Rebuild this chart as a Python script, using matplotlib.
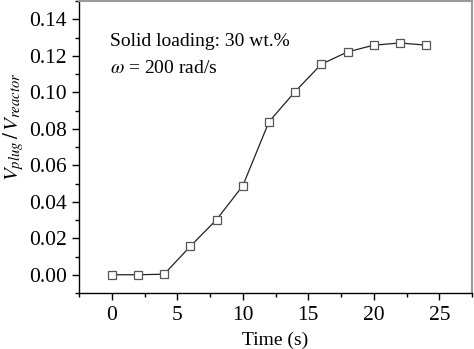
import numpy as np
import matplotlib
matplotlib.use('Agg')
from matplotlib import pyplot as plt
from matplotlib.ticker import MultipleLocator

# plug volume fraction vs time
time_s = [0, 2, 4, 6, 8, 10, 12, 14, 16, 18, 20, 22, 24]
v_ratio = [0.0, 0.0, 0.0003, 0.0156, 0.0302, 0.0487, 0.0838, 0.1004,
           0.1154, 0.1221, 0.1258, 0.1270, 0.1258]
x_ticks = [0, 5, 10, 15, 20, 25]
y_ticks = [0.00, 0.02, 0.04, 0.06, 0.08, 0.10, 0.12, 0.14]

plt.rcParams['font.family'] = ['Liberation Serif', 'DejaVu Serif']
plt.rcParams['mathtext.fontset'] = 'stix'
plt.rcParams['font.size'] = 14

fig = plt.figure(figsize=(4.74, 3.49), dpi=100)
ax = fig.add_axes([79/474, 56/349, (472-79)/474, (293-1)/349])

ax.plot(time_s, v_ratio, color='#222222', lw=0.9, marker='s', ms=6,
        mfc='white', mec='#555555', mew=0.9)

ax.set_xlim(-2.5, 27.5)
ax.set_ylim(-0.01, 0.15)
ax.set_xticks(x_ticks)
ax.set_yticks(y_ticks)
ax.set_yticklabels(['%.2f' % v for v in y_ticks])
ax.xaxis.set_minor_locator(MultipleLocator(2.5))
ax.yaxis.set_minor_locator(MultipleLocator(0.01))
ax.tick_params(which='major', direction='out', length=5, width=1, pad=4,
               labelsize=15.5, top=False, right=False)
ax.tick_params(which='minor', direction='out', length=3, width=1, top=False, right=False)

for side in ['left', 'bottom']:
    ax.spines[side].set_color('black')
    ax.spines[side].set_linewidth(1.0)
for side in ['top', 'right']:
    ax.spines[side].set_color('#999999')
    ax.spines[side].set_linewidth(1.5)

ax.set_xlabel('Time (s)', labelpad=5)
ax.set_ylabel(r'$V_{plug}\,/\,V_{reactor}$', fontsize=15)
ax.yaxis.set_label_coords(-0.135, 0.57)

ax.text(0.08, 0.845, 'Solid loading: 30 wt.%', transform=ax.transAxes)
ax.text(0.08, 0.755, r'$\omega$ = 200 rad/s', transform=ax.transAxes)

fig.savefig('out.png', dpi=100)
